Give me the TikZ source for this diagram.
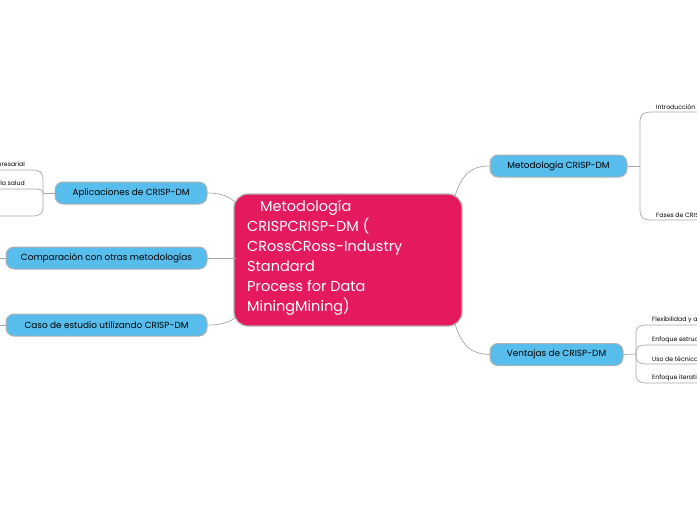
\documentclass[tikz,border=0pt]{standalone}
\usepackage{fontspec}
\setmainfont{Poppins}
\begin{document}
\begin{tikzpicture}[x=1pt,y=-1pt,
  blue/.style={draw=black!30,line width=1pt,fill=topblue,rounded corners=8pt,font=\fontsize{8.9}{10}\selectfont,inner sep=0pt,minimum height=22pt},
  sub/.style={font=\fontsize{6.2}{7}\selectfont,anchor=south west,inner sep=1pt},
  ln/.style={draw=black!35,line width=0.7pt}]
\definecolor{topblue}{HTML}{56BDEC}
\definecolor{mag}{HTML}{E5195E}
\clip (0,0) rectangle (697,520);
\useasboundingbox (0,0) rectangle (697,520);
% central
\node[draw=black!30,line width=1.2pt,fill=mag,rounded corners=14pt,minimum width=228pt,minimum height=132pt] (c) at (348,260) {};
\node[anchor=north west,text=white,align=left,font=\fontsize{14.5}{20}\selectfont,inner sep=0pt] (ct) at (247,200)
 {\hspace*{13pt}Metodología\\CRISPCRISP-DM (\\CRossCRoss-Industry\\Standard\\Process for Data\\MiningMining)};
% blue nodes
\node[blue,minimum width=137pt] (m) at (558.5,166) {Metodologia CRISP-DM};
\node[blue,minimum width=133pt] (v) at (556.5,354.5) {Ventajas de CRISP-DM};
\node[blue,minimum width=152pt] (a) at (131,193) {Aplicaciones de CRISP-DM};
\node[blue,minimum width=201pt] (co) at (106.5,258) {Comparación con otras metodologías};
\node[blue,minimum width=201pt] (ca) at (106.5,325) {Caso de estudio utilizando CRISP-DM};
% central connectors
\draw[ln] (m.west) .. controls (470,166) and (462,175) .. (455,196);
\draw[ln] (v.west) .. controls (470,354) and (462,345) .. (455,324);
\draw[ln] (a.east) .. controls (222,193) and (230,197) .. (236,203);
\draw[ln] (co.east) -- (236,258);
\draw[ln] (ca.east) .. controls (222,325) and (230,322) .. (236,317);
% right top subtopics
\coordinate (mb) at (640,166);
\draw[ln] (m.east) -- (mb);
\draw[ln] (mb) -- (640,124) .. controls (640,114) and (642,112) .. (654,112) -- (697,112);
\draw[ln] (mb) -- (640,208) .. controls (640,218) and (642,220) .. (654,220) -- (697,220);
\node[sub] (t1) at (655,111) {Introducción a CRISP-DM};
\node[sub] (t2) at (655,219) {Fases de CRISP-DM};
% right bottom
\coordinate (vb) at (636,354);
\draw[ln] (v.east) -- (vb);
\draw[ln] (vb) -- (636,335) .. controls (636,327) and (638,325) .. (648,325) -- (697,325);
\draw[ln] (vb) .. controls (636,346) and (638,345) .. (648,345) -- (697,345);
\draw[ln] (vb) .. controls (636,362) and (638,364) .. (648,364) -- (697,364);
\draw[ln] (vb) -- (636,373) .. controls (636,381) and (638,383) .. (648,383) -- (697,383);
\node[sub] (s1) at (651,324) {Flexibilidad y adaptabilidad};
\node[sub] (s2) at (651,344) {Enfoque estructurado};
\node[sub] (s3) at (651,363) {Uso de técnicas};
\node[sub] (s4) at (651,382) {Enfoque iterativo};
% left
\coordinate (ab) at (43,193);
\draw[ln] (a.west) -- (ab);
\draw[ln] (ab) -- (43,182) .. controls (43,172) and (41,170) .. (31,170) -- (0,170);
\draw[ln] (ab) .. controls (43,190) and (41,189) .. (33,189) -- (0,189);
\draw[ln] (ab) -- (43,206) .. controls (43,214) and (41,216) .. (31,216) -- (0,216);
\node[sub,anchor=south east] (l1) at (26,169) {Aplicación empresarial};
\node[sub,anchor=south east] (l2) at (26,188) {Aplicación en la salud};
\draw[ln] (co.west) -- (0,258);
\draw[ln] (ca.west) -- (0,325);
\end{tikzpicture}
\end{document}
